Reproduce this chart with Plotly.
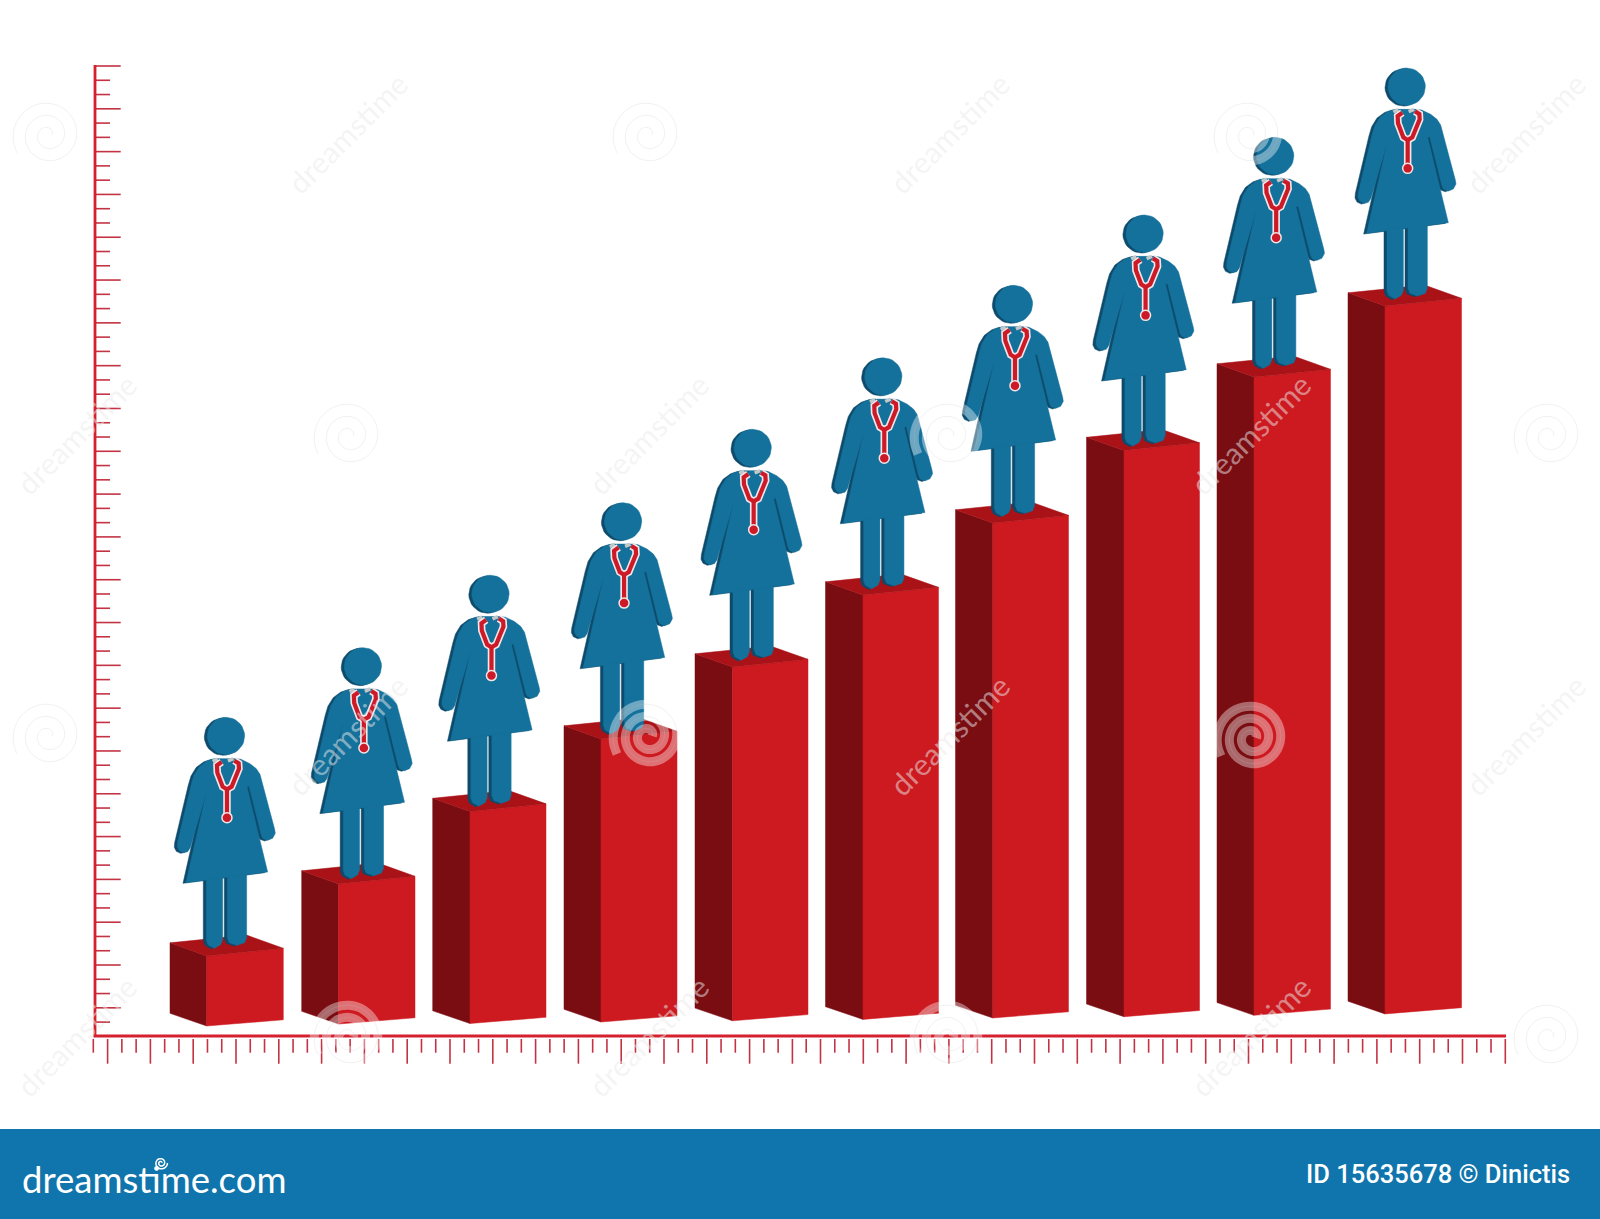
import math
import plotly.graph_objects as go

# ---------- chart data (axis units: value above the baseline, position along the baseline) ----------
bar_left = [170, 301.7, 432.7, 564, 695, 825.5, 955.5, 1086.5, 1217, 1348]
bar_fold = [206.7, 338.5, 470, 601, 732.5, 863, 992.8, 1124, 1254, 1385]
bar_right = [283.3, 415, 546, 677, 808, 938.5, 1068.5, 1199.5, 1330.5, 1461.5]
bar_top = [80, 152, 224.5, 297, 369, 441, 513, 585.5, 659, 730]
bar_base = [10, 12, 12.5, 14, 15.2, 16.6, 18, 19.3, 20.7, 22.1]

woman_x = [225.3, 362.2, 489.8, 622.4, 752, 882.6, 1013.3, 1143.9, 1274.5, 1406]
woman_head = [300, 369.7, 442.1, 514.6, 588, 659.5, 732, 802.3, 880, 949.3]

footer_logo = "dreamstime.com"
footer_id = "ID 15635678 © Dinictis"
watermark = "dreamstime"

# ---------- pictogram outline, in the drawing units of one figure ----------
body_outline = [(198, 148), (165, 148), (143, 155), (120, 172), (104, 198), (96, 225), (55, 398), (54, 412), (60, 424),
                (73, 430), (85, 427), (93, 415), (141, 250), (80, 520), (325, 488), (263, 232), (269, 230), (306, 378),
                (311, 388), (325, 393), (340, 387), (348, 372), (346, 360), (302, 195), (291, 178), (272, 163),
                (245, 150), (230, 148)]
leg_left = [(141, 505), (141, 692), (146, 706), (165, 717), (184, 706), (190, 692), (190, 505)]
leg_right = [(204, 500), (204, 685), (210, 700), (233, 708), (256, 700), (262, 685), (262, 495)]
stetho_tube = [(187, 158), (173, 168), (174, 190), (190, 232), (203, 240), (217, 232), (239, 178), (238, 162), (225, 154)]
stetho_stem = [(203, 240), (203, 325)]
collar_left = [(160, 156), (175, 149)]
collar_right = [(206, 155), (222, 148)]


def head_points(cx=200, cy=80, r=56):
    return [(cx + r * math.cos(math.radians(a)), cy + r * math.sin(math.radians(a))) for a in range(0, 360, 10)]


def place(points, wx, wy, dx=0.0, dy=0.0):
    xs, ys = [], []
    for px, py in points:
        xs.append(wx + (px - 198) / 3 + dx)
        ys.append(wy - (py - 80) / 3 + dy)
    return xs, ys


def joined(shapes, wx, wy, dx=0.0, dy=0.0):
    xs, ys = [], []
    for s in shapes:
        a, b = place(list(s) + [s[0]], wx, wy, dx, dy)
        xs += a + [None]
        ys += b + [None]
    return xs, ys


fig = go.Figure()
RED_FRONT, RED_SIDE, RED_TOP = "#cc1a20", "#7a0d12", "#a91217"
BLUE, BLUE_DARK = "#14719b", "#0d4a6b"
AXIS, TICK = "#d4202f", "#c43344"


def poly(xs, ys, color):
    fig.add_trace(go.Scatter(x=xs + [xs[0]], y=ys + [ys[0]], mode="lines", fill="toself", fillcolor=color,
                             line=dict(color=color, width=0.5), hoverinfo="skip", showlegend=False))


# ---------- axes drawn with tick marks ----------
def lines(segments, color, width):
    xs, ys = [], []
    for x0, y0, x1, y1 in segments:
        xs += [x0, x1, None]
        ys += [y0, y1, None]
    fig.add_trace(go.Scatter(x=xs, y=ys, mode="lines", line=dict(color=color, width=width),
                             hoverinfo="skip", showlegend=False))


y_ticks = []
for k in range(68):
    v = 970 - 14.27 * k
    y_ticks.append((96, v, 120.7 if k % 3 == 0 else 110, v))
lines(y_ticks, TICK, 1.6)

x_major = [107.6 + 42.8 * k for k in range(17)] + [820.5 + 42.8 * k for k in range(17)]
x_minor = [93.3, 806.2]
for a, b in zip(x_major[:16], x_major[1:17]):
    x_minor += [a + (b - a) / 3, a + 2 * (b - a) / 3]
for a, b in zip(x_major[17:-1], x_major[18:]):
    x_minor += [a + (b - a) / 3, a + 2 * (b - a) / 3]
lines([(x, -3, x, -27.7) for x in x_major], TICK, 1.6)
lines([(x, -3, x, -16.7) for x in x_minor], TICK, 1.6)
lines([(95, 0, 95, 971), (93.5, 0, 1506, 0)], AXIS, 2.8)

# ---------- bars ----------
for L, F, R, T, B in zip(bar_left, bar_fold, bar_right, bar_top, bar_base):
    tl, tr = T + 13.2, T + 7.7
    bl, br = B + 12.7, B + 6.2
    poly([L, F, F, L], [tl, T, B, bl], RED_SIDE)
    poly([F, R, R, F], [T, tr, br, B], RED_FRONT)
    poly([L, F, R, L + R - F], [tl, T, tr, tl + tr - T], RED_TOP)

# ---------- figures ----------
for wx, wy in zip(woman_x, woman_head):
    shapes = [head_points(), body_outline, leg_left, leg_right]
    xs, ys = joined(shapes, wx, wy, -3.0, -0.7)
    fig.add_trace(go.Scatter(x=xs, y=ys, mode="lines", fill="toself", fillcolor=BLUE_DARK,
                             line=dict(color=BLUE_DARK, width=0.5), hoverinfo="skip", showlegend=False))
    xs, ys = joined(shapes, wx, wy)
    fig.add_trace(go.Scatter(x=xs, y=ys, mode="lines", fill="toself", fillcolor=BLUE,
                             line=dict(color=BLUE, width=0.5), hoverinfo="skip", showlegend=False))
    for c in (collar_left, collar_right):
        cx, cy = place(c, wx, wy)
        fig.add_trace(go.Scatter(x=cx, y=cy, mode="lines", line=dict(color="#c4c8c8", width=3.5),
                                 hoverinfo="skip", showlegend=False))
    tx, ty = place(stetho_tube, wx, wy)
    sx, sy = place(stetho_stem, wx, wy)
    for color, width in (("#f2e6e6", 7.5), ("#cc1a28", 4.2)):
        fig.add_trace(go.Scatter(x=tx + [None] + sx, y=ty + [None] + sy, mode="lines",
                                 line=dict(color=color, width=width), hoverinfo="skip", showlegend=False))
    fig.add_trace(go.Scatter(x=[sx[-1]], y=[sy[-1]], mode="markers",
                             marker=dict(color="#cc1a28", size=10, line=dict(color="#f2e6e6", width=1.5)),
                             hoverinfo="skip", showlegend=False))


# ---------- faint stock-image marks ----------
def spiral(cx, cy, r0, turns=2.6):
    xs, ys = [], []
    for i in range(int(turns * 24) + 1):
        t = i / 24
        r = r0 * (0.12 + 0.88 * t / turns)
        a = 2 * math.pi * t
        xs.append(cx + r * math.cos(a))
        ys.append(cy + r * math.sin(a))
    return xs, ys


spiral_at = [(48, 1036 - 135), (648, 1036 - 135), (1249, 1036 - 135),
             (349, 1036 - 436), (949, 1036 - 436), (1549, 1036 - 436),
             (48, 1036 - 736), (648, 1036 - 736), (1252, 1036 - 738),
             (349, 1036 - 1037), (949, 1036 - 1037), (1549, 1036 - 1037)]
for cx, cy in spiral_at:
    xs, ys = spiral(cx, cy, 36)
    fig.add_trace(go.Scatter(x=xs, y=ys, mode="lines", line=dict(color="rgba(255,255,255,0.38)", width=9, shape="spline"),
                             hoverinfo="skip", showlegend=False))
    fig.add_trace(go.Scatter(x=xs, y=ys, mode="lines", line=dict(color="rgba(190,190,190,0.22)", width=1, shape="spline"),
                             hoverinfo="skip", showlegend=False))

annotations = []
for mx, my in [(347, 133), (949, 133), (1525, 133), (76, 434), (648, 434), (1250, 434),
               (347, 735), (949, 735), (1525, 735), (76, 1036), (648, 1036), (1250, 1036)]:
    for color in ("rgba(255,255,255,0.42)", "rgba(190,190,190,0.16)"):
        annotations.append(dict(x=mx, y=1036 - my, text=watermark, textangle=-45, showarrow=False, xref="x", yref="y",
                                font=dict(family="Lato", size=30, color=color)))

annotations.append(dict(x=20, y=1036 - 1179, text=footer_logo, xanchor="left", showarrow=False, xref="x", yref="y",
                        font=dict(family="Lato", size=36.5, color="white")))
annotations.append(dict(x=1572, y=1036 - 1174, text=footer_id, xanchor="right", showarrow=False, xref="x", yref="y",
                        font=dict(family="Roboto", size=25.5, color="white", weight=500)))

# footer spiral mark
xs, ys = spiral(161, 1036 - 1163, 6.5, 2.0)
fig.add_trace(go.Scatter(x=xs, y=ys, mode="lines", line=dict(color="white", width=1.5, shape="spline"),
                         hoverinfo="skip", showlegend=False))

fig.update_layout(
    width=1600, height=1219, margin=dict(l=0, r=0, t=0, b=0), autosize=False,
    paper_bgcolor="white", plot_bgcolor="white", showlegend=False,
    xaxis=dict(range=[0, 1600], visible=False, fixedrange=True),
    yaxis=dict(range=[-183, 1036], visible=False, fixedrange=True),
    shapes=[dict(type="rect", xref="x", yref="y", x0=0, x1=1600, y0=1036 - 1129, y1=-183,
                 fillcolor="#0f75ac", line=dict(width=0), layer="below")],
    annotations=annotations,
)

fig.write_html("out.html", config=dict(displayModeBar=False),
               post_script="document.body.style.margin='0';document.body.style.overflow='hidden';")
